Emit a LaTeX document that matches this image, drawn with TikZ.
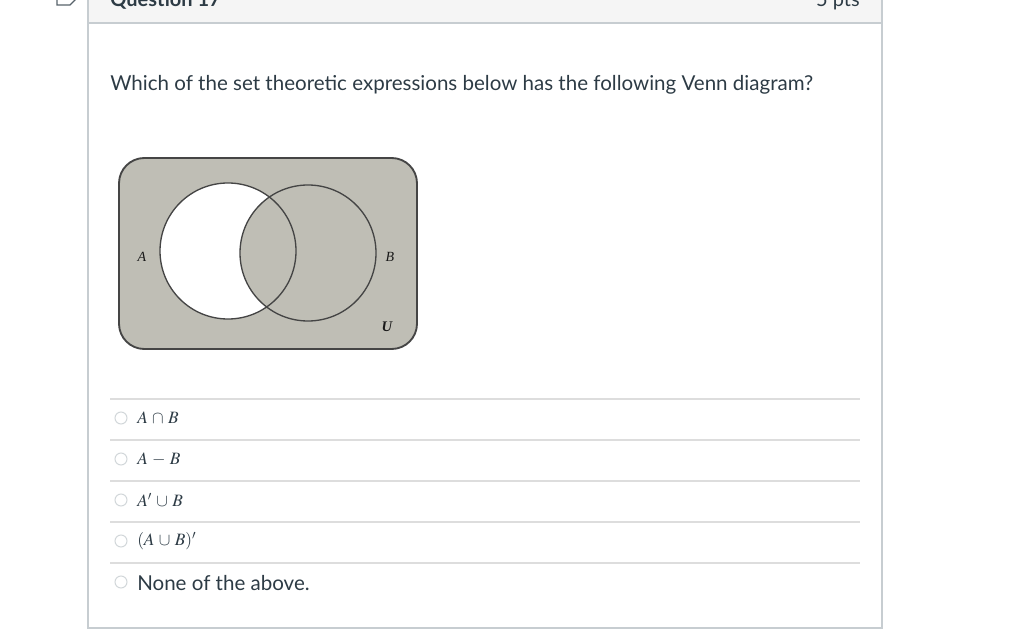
\documentclass[tikz,border=0pt]{standalone}
\usepackage{mathptmx}
\usepackage[no-math]{fontspec}
\setmainfont{Lato}
\newfontfamily\vennfont{Liberation Serif}

\definecolor{inktext}{HTML}{2D3B45}
\definecolor{cardline}{HTML}{C7CDD1}
\definecolor{headfill}{HTML}{F5F5F5}
\definecolor{rowline}{HTML}{DDDDDD}
\definecolor{venngray}{HTML}{BFBEB5}
\definecolor{vennline}{HTML}{454545}

\tikzset{
	answer/.style={anchor=west, inner sep=0pt, text=inktext, font=\fontsize{13}{15}\selectfont},
	radio/.style={draw=cardline!80, line width=0.8pt, fill=white},
	vennlabel/.style={inner sep=0pt, text=black!90, font=\vennfont\fontsize{10.5}{12}\selectfont\itshape}
}

\begin{document}
\begin{tikzpicture}[x=0.75pt,y=-0.75pt]
		\useasboundingbox (0,0) rectangle (1024,634);
		\clip (0,0) rectangle (1024,634);
		% card and header
		\fill[headfill] (88,-10) rectangle (882,23);
		\draw[cardline, line width=0.9pt] (88,-10) rectangle (882,628);
		\draw[cardline, line width=0.9pt] (88,23) -- (882,23);
		\draw[inktext!80, line width=1pt] (57,-2) -- (57,5) -- (70,5) -- (77,-2);
		\node[anchor=base west, inner sep=0pt, text=inktext, font=\fontsize{15}{18}\bfseries] (qtitle) at (110,7) {Question 17};
		\node[anchor=base east, inner sep=0pt, text=inktext, font=\fontsize{15}{18}\selectfont] (qpts) at (860,7) {5 pts};
		
		\node[anchor=west, inner sep=0pt, text=inktext, font=\fontsize{15.4}{18}\selectfont] (qtext) at (110,85) {Which of the set theoretic expressions below has the following Venn diagram?};
		
		% Venn diagram
		\draw[vennline, line width=1.4pt, fill=venngray, rounded corners=19pt] (119,158) rectangle (417,349);
		\fill[white] (228,251) circle [radius=51pt];
		\begin{scope}
			\clip (228,251) circle [radius=51pt];
			\fill[venngray] (308,253) circle [radius=51pt];
		\end{scope}
		\draw[vennline, line width=1pt] (228,251) circle [radius=51pt];
		\draw[vennline, line width=1pt] (308,253) circle [radius=51pt];
		\node[vennlabel] (setA) at (142,257) {A};
		\node[vennlabel] (setB) at (390,257) {B};
		\node[vennlabel, font=\vennfont\fontsize{11}{12}\selectfont\bfseries\itshape] (setU) at (387,327) {U};
		
		% answers
		\draw[rowline, line width=0.8pt] (110,399) -- (860,399);
		\draw[rowline, line width=0.8pt] (110,440) -- (860,440);
		\draw[rowline, line width=0.8pt] (110,481) -- (860,481);
		\draw[rowline, line width=0.8pt] (110,522) -- (860,522);
		\draw[rowline, line width=0.8pt] (110,563) -- (860,563);
		
		\draw[radio] (121,418) circle [radius=4.5pt];
		\draw[radio] (121,459) circle [radius=4.5pt];
		\draw[radio] (121,500) circle [radius=4.5pt];
		\draw[radio] (121,541) circle [radius=4.5pt];
		\draw[radio] (121,582) circle [radius=4.5pt];
		
		\node[answer] (optA) at (137,418) {$A\,\cap\,B$};
		\node[answer] (optB) at (137,459) {$A\,-\,B$};
		\node[answer] (optC) at (137,500) {$A'\,\cup\,B$};
		\node[answer] (optD) at (137,541) {$(A\,\cup\,B)'$};
		\node[answer, font=\fontsize{15.4}{18}\selectfont] (optE) at (137,583) {None of the above.};
	\end{tikzpicture}
\end{document}
